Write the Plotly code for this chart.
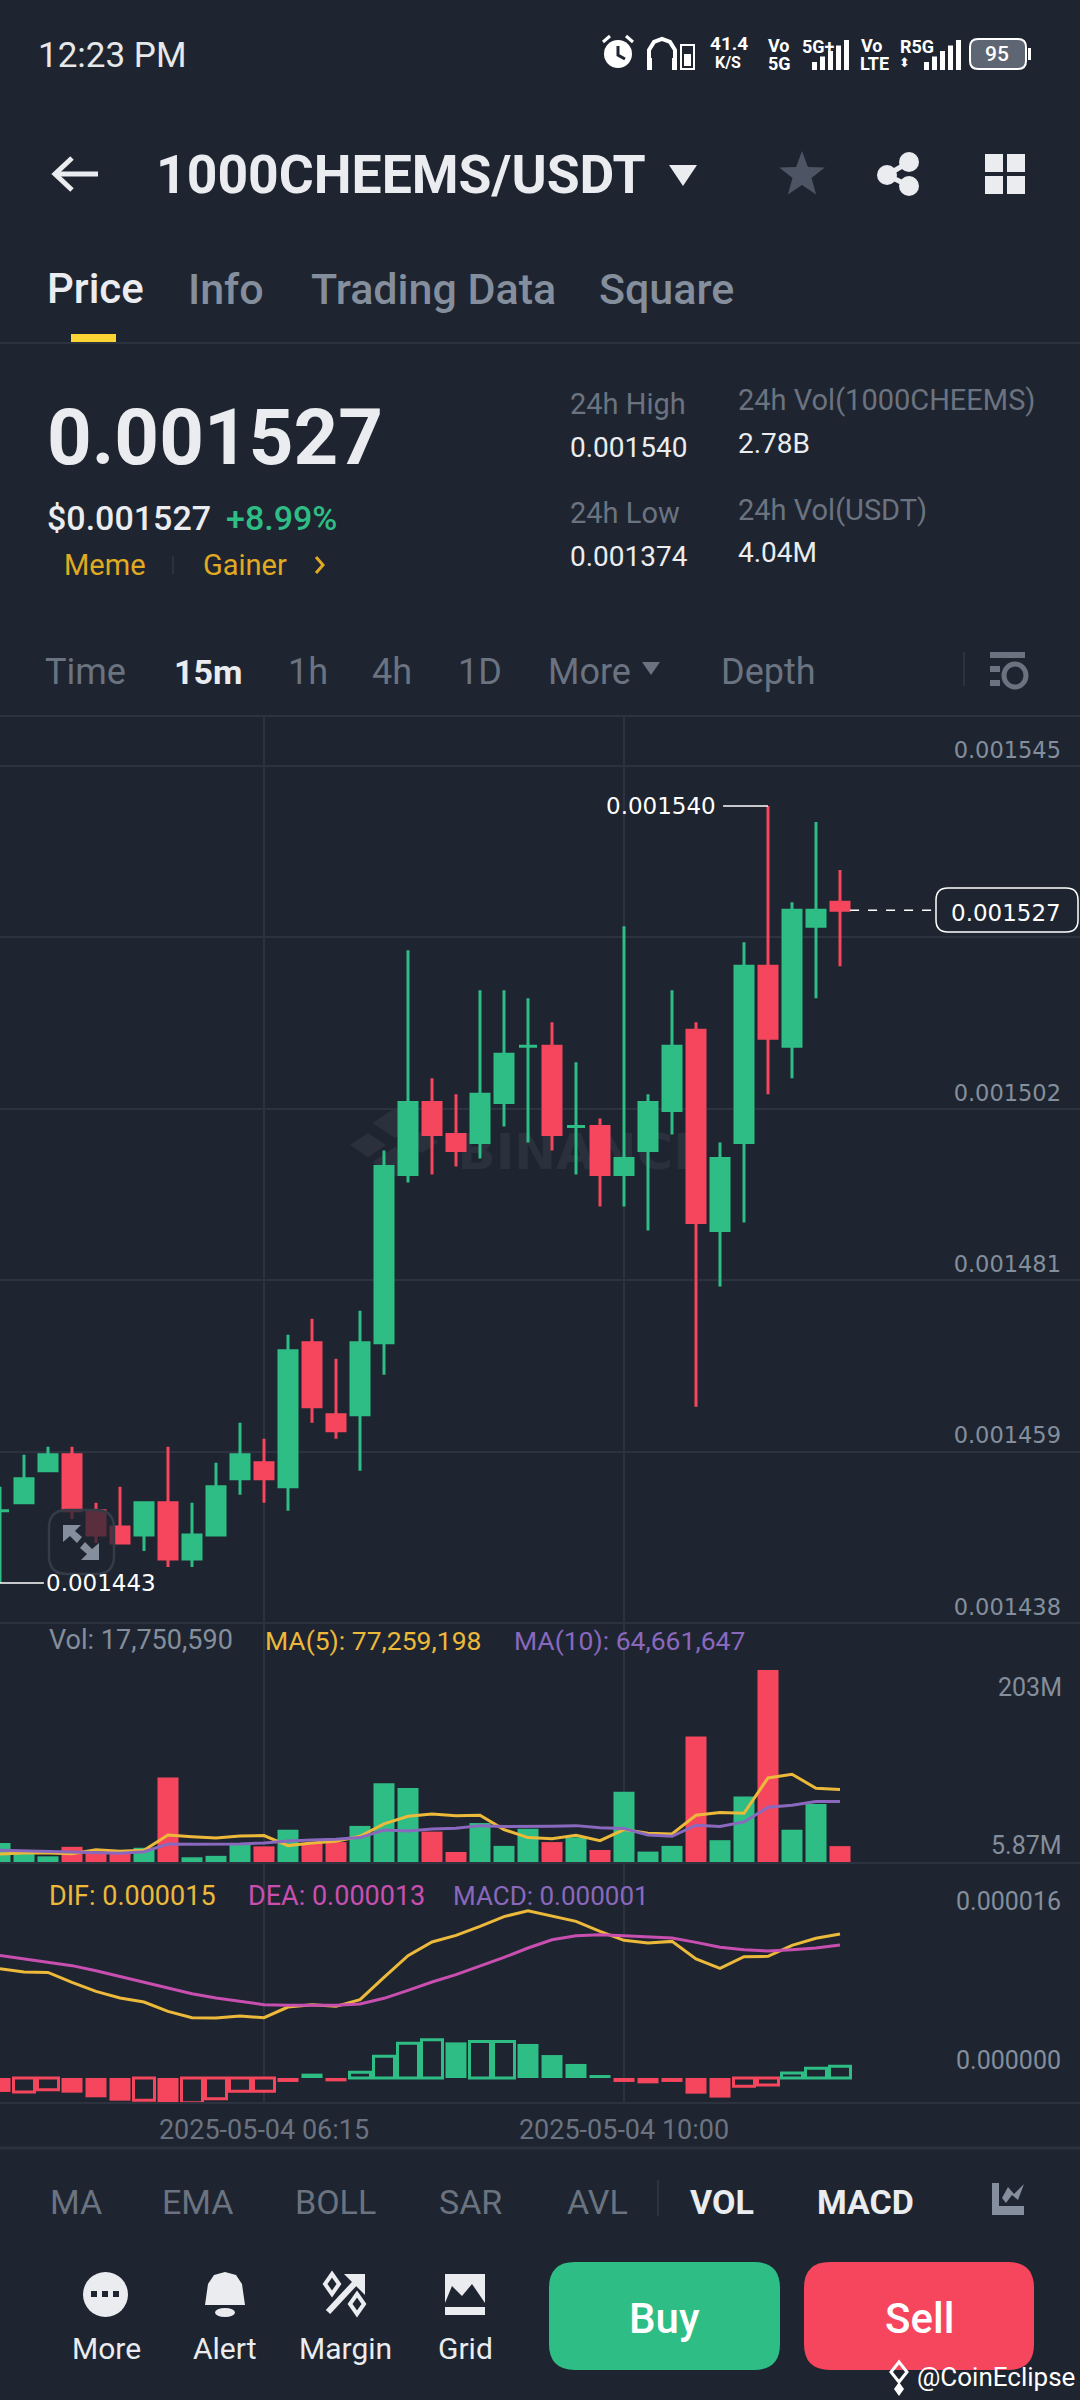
import math
import pandas as pd
import plotly.graph_objs as go

BG = "#1e2530"
GRID = "#2c333e"
GREEN = "#2ebd85"
RED = "#f6465d"
WHITE = "#eaecef"
GRAY = "#848e9c"
DIM = "#6b7380"
GOLD = "#ecb93a"
PINK = "#c84fb0"
PURPLE = "#8a68bd"
SANS = "Roboto"
WIDE = "DejaVu Sans"

candle_times = pd.date_range("2025-05-04 03:30", periods=36, freq="15min")

opens = [0.001452, 0.001453, 0.001457, 0.001459, 0.001452, 0.001450, 0.001449, 0.001453, 0.001446,
         0.001449, 0.001456, 0.001458, 0.001455, 0.001473, 0.001464, 0.001464, 0.001473, 0.001494,
         0.001503, 0.001499, 0.001498, 0.001503, 0.001510, 0.001510, 0.001500, 0.001500, 0.001494,
         0.001497, 0.001502, 0.001512, 0.001487, 0.001498, 0.001520, 0.001510, 0.001525, 0.001528]
closes = [0.001452, 0.001456, 0.001459, 0.001452, 0.001449, 0.001448, 0.001453, 0.001446, 0.001449,
          0.001455, 0.001459, 0.001456, 0.001472, 0.001465, 0.001462, 0.001473, 0.001495, 0.001503,
          0.001499, 0.001497, 0.001504, 0.001509, 0.001510, 0.001499, 0.001500, 0.001494, 0.001496,
          0.001503, 0.001510, 0.001488, 0.001496, 0.001520, 0.001511, 0.001527, 0.001527, 0.001527]
highs = [0.001455, 0.001459, 0.001460, 0.001460, 0.001453, 0.001455, 0.001453, 0.001460, 0.001453,
         0.001458, 0.001463, 0.001461, 0.001474, 0.001476, 0.001471, 0.001477, 0.001497, 0.001522,
         0.001506, 0.001504, 0.001517, 0.001517, 0.001516, 0.001513, 0.001508, 0.001501, 0.001525,
         0.001504, 0.001517, 0.001513, 0.001498, 0.001523, 0.001540, 0.001528, 0.001538, 0.001532]
lows = [0.001443, 0.001453, 0.001457, 0.001451, 0.001448, 0.001448, 0.001447, 0.001445, 0.001445,
        0.001449, 0.001454, 0.001453, 0.001452, 0.001463, 0.001461, 0.001457, 0.001469, 0.001493,
        0.001494, 0.001495, 0.001496, 0.001500, 0.001498, 0.001497, 0.001494, 0.001490, 0.001490,
        0.001487, 0.001499, 0.001465, 0.001480, 0.001488, 0.001504, 0.001506, 0.001516, 0.001520]

# volume, millions
volumes = [21, 9.5, 7, 17, 11, 10.5, 16, 90, 6, 7.5, 20, 17.5, 35, 21, 22, 39, 84, 79,
           33, 11.6, 42, 18, 36, 22, 27, 13.7, 75, 12, 18, 133, 24, 70, 203, 35, 62, 17.75]
ma5 = [9.5, 10.5, 10.5, 9.8, 14, 12.3, 13.3, 29.5, 27.7, 26.3, 28.4, 28.8, 18.3, 21.1, 22.8, 28.1, 41.1, 49.1,
       51.6, 49.8, 50.2, 35.1, 26.7, 25.6, 29.1, 23.5, 35.1, 31.2, 30.5, 50.2, 53, 52.3, 89.5, 93.4, 78.6, 77.26]
ma10 = [13.3, 12.6, 11.6, 10.9, 10.2, 10.2, 11.9, 20, 19.7, 19.7, 20, 21.1, 23.2, 24.2, 24.9, 26.7, 34.7, 33.7,
        35.8, 36.5, 39.3, 38.3, 38.3, 38.6, 39.3, 37.2, 36.2, 29.5, 28.1, 39.7, 38.3, 43.2, 58.6, 60.7, 64.6, 64.66]

# macd pane, millionths
dif = [11.04, 10.71, 10.67, 9.66, 8.75, 8.08, 7.68, 6.73, 6.09, 6.06, 6.26, 6.09, 7.17, 7.41, 7.24, 7.91, 10.17, 12.36,
       13.74, 14.41, 15.32, 16.30, 16.90, 16.33, 15.82, 14.81, 13.91, 13.64, 13.80, 12.02, 11.08, 12.26, 12.29, 13.40, 14.11, 14.55]
dea = [12.39, 12.05, 11.75, 11.35, 10.84, 10.27, 9.70, 9.09, 8.52, 8.08, 7.71, 7.41, 7.34, 7.37, 7.34, 7.47, 8.05, 8.86,
       9.70, 10.44, 11.28, 12.19, 13.13, 13.97, 14.38, 14.48, 14.38, 14.24, 14.14, 13.70, 13.20, 12.96, 12.83, 12.96, 13.13, 13.43]
macd = [-1.41, -1.41, -1.18, -1.48, -1.95, -2.29, -2.25, -2.46, -2.5, -2.09, -1.35, -1.35, -0.40, 0.44, -0.34, 0.57, 2.19, 3.52,
        3.87, 3.60, 3.70, 3.70, 3.44, 2.32, 1.42, 0.30, -0.40, -0.54, -0.40, -1.58, -1.98, -0.84, -0.71, 0.50, 0.98, 1.18]
macd_hollow = [0, 1, 1, 0, 0, 0, 1, 0, 1, 1, 1, 1, 0, 0, 0, 1, 1, 1,
               1, 0, 1, 1, 0, 0, 0, 0, 0, 0, 0, 0, 0, 1, 1, 1, 1, 1]

# the axis levels are evenly spaced, the labels round them to six places
price_ticks = [0.0015450, 0.0015236, 0.0015022, 0.0014808, 0.0014594, 0.0014380]
# the second level's label is covered by the last price tag in the picture
price_tick_text = ["0.001545", "", "0.001502", "0.001481", "0.001459", "0.001438"]
macd_ticks = [0.000016, 0.0]
time_ticks = ["2025-05-04 06:15", "2025-05-04 10:00"]

W, H = 1080.0, 2400.0


def px(x):
    return x / W


def py(y):
    return 1 - y / H


def dom(top, bottom):
    return [py(bottom), py(top)]


annotations = []
shapes = []


def label(x, y, text, size=30, color=WHITE, anchor="left", font=SANS, bold=False, weight=None):
    if bold:
        text = "<b>" + text + "</b>"
    f = dict(family=font, size=size, color=color)
    if weight:
        f["weight"] = weight
    annotations.append(dict(xref="paper", yref="paper", x=px(x), y=py(y), text=text, showarrow=False,
                            xanchor=anchor, yanchor="middle", borderpad=0, font=f))


def path_of(points, close=True):
    s = ""
    for i, p in enumerate(points):
        s += ("M" if i == 0 else "L") + " %.5f %.5f " % (px(p[0]), py(p[1]))
    return s + ("Z" if close else "")


def poly(points, fill=None, line=None, width=0, close=True, layer="above"):
    shapes.append(dict(type="path", xref="paper", yref="paper", path=path_of(points, close), layer=layer,
                       fillcolor=fill if fill else "rgba(0,0,0,0)",
                       line=dict(color=line if line else "rgba(0,0,0,0)", width=width)))


def rect(x0, y0, x1, y1, fill=None, line=None, width=0, layer="above"):
    shapes.append(dict(type="rect", xref="paper", yref="paper", x0=px(x0), x1=px(x1), y0=py(y0), y1=py(y1),
                       layer=layer, fillcolor=fill if fill else "rgba(0,0,0,0)",
                       line=dict(color=line if line else "rgba(0,0,0,0)", width=width)))


def oval(x0, y0, x1, y1, fill=None, line=None, width=0):
    shapes.append(dict(type="circle", xref="paper", yref="paper", x0=px(x0), x1=px(x1), y0=py(y0), y1=py(y1),
                       fillcolor=fill if fill else "rgba(0,0,0,0)",
                       line=dict(color=line if line else "rgba(0,0,0,0)", width=width)))


def hline(y, x0=0, x1=W, color=GRID, width=2):
    shapes.append(dict(type="line", xref="paper", yref="paper", x0=px(x0), x1=px(x1), y0=py(y), y1=py(y),
                       line=dict(color=color, width=width)))


def vline(x, y0, y1, color=GRID, width=2):
    shapes.append(dict(type="line", xref="paper", yref="paper", x0=px(x), x1=px(x), y0=py(y0), y1=py(y1),
                       line=dict(color=color, width=width)))


def rounded(x0, y0, x1, y1, r, fill=None, line=None, width=0):
    # paper coords are fine here since the page is a fixed size
    fx0, fx1, fy0, fy1 = px(x0), px(x1), py(y0), py(y1)
    rx, ry = r / W, r / H
    p = "M %.5f %.5f L %.5f %.5f Q %.5f %.5f %.5f %.5f L %.5f %.5f Q %.5f %.5f %.5f %.5f " % (
        fx0 + rx, fy0, fx1 - rx, fy0, fx1, fy0, fx1, fy0 - ry, fx1, fy1 + ry, fx1, fy1, fx1 - rx, fy1)
    p += "L %.5f %.5f Q %.5f %.5f %.5f %.5f L %.5f %.5f Q %.5f %.5f %.5f %.5f Z" % (
        fx0 + rx, fy1, fx0, fy1, fx0, fy1 + ry, fx0, fy0 - ry, fx0, fy0, fx0 + rx, fy0)
    shapes.append(dict(type="path", xref="paper", yref="paper", path=p,
                       fillcolor=fill if fill else "rgba(0,0,0,0)",
                       line=dict(color=line if line else "rgba(0,0,0,0)", width=width)))


def signal_bars(x0, y_bottom):
    for i in range(5):
        h = 8 + i * 5.5
        rect(x0 + i * 8, y_bottom - h, x0 + i * 8 + 5, y_bottom, fill="white")


# status bar
label(37, 55, "12:23 PM", 35, "#e6e8ea")
oval(604, 40, 632, 68, fill="white")
poly([(618, 46), (618, 55), (625, 59)], line=BG, width=3, close=False)
poly([(603, 42), (610, 36)], line="white", width=3, close=False)
poly([(626, 36), (633, 42)], line="white", width=3, close=False)
poly([(649, 70), (649, 50), (654, 42), (662, 39), (670, 42), (675, 50), (675, 70)], line="white", width=4, close=False)
rect(647, 58, 652, 70, fill="white")
rect(672, 58, 677, 70, fill="white")
rect(681, 45, 694, 69, line="white", width=2)
rect(684, 54, 691, 66, fill="white")
label(729, 44, "41.4", 19, "white", "center", bold=True)
label(728, 63, "K/S", 16, "white", "center", bold=True)
label(779, 45, "Vo", 18, "white", "center", bold=True)
label(779, 64, "5G", 18, "white", "center", bold=True)
label(818, 46, "5G+", 18, "white", "center", bold=True)
signal_bars(812, 70)
label(872, 45, "Vo", 18, "white", "center", bold=True)
label(874, 64, "LTE", 18, "white", "center", bold=True)
label(917, 46, "R5G", 18, "white", "center", bold=True)
label(904, 63, "⬍", 13, "white", "center", WIDE)
signal_bars(924, 70)
rounded(970, 39, 1026, 69, 8, fill="#5e6673", line="white", width=2)
label(997, 54, "95", 21, "white", "center", weight=500)
rect(1028, 48, 1031, 60, fill="white")

# header
poly([(98, 174), (58, 174)], line=WHITE, width=5, close=False)
poly([(72, 158), (55, 174), (72, 190)], line=WHITE, width=5, close=False)
label(155, 175, "1000CHEEMS/USDT", 53.5, WHITE, bold=True)
poly([(669, 165), (697, 165), (683, 186)], fill=WHITE)
star = []
for k in range(10):
    r = 24 if k % 2 == 0 else 10
    a = -math.pi / 2 + k * math.pi / 5
    star.append((802 + r * math.cos(a), 175 + r * math.sin(a)))
poly(star, fill="#4d5564")
oval(877, 165, 897, 185, fill=WHITE)
oval(899, 152, 919, 172, fill=WHITE)
oval(899, 176, 919, 196, fill=WHITE)
poly([(909, 162), (887, 175), (909, 186)], line=WHITE, width=5, close=False)
rect(985, 154, 1003, 172, fill=WHITE)
rect(1007, 154, 1025, 172, fill=WHITE)
rect(985, 176, 1003, 194, fill=WHITE)
rect(1007, 176, 1025, 194, fill=WHITE)

# tabs
label(46, 289, "Price", 42, WHITE, weight=500)
label(187, 289, "Info", 43, GRAY, weight=500)
label(310, 289, "Trading Data", 43, GRAY, weight=500)
label(598, 289, "Square", 43, GRAY, weight=500)
rect(71, 334, 116, 342, fill="#fcd535")
hline(343)

# ticker block
label(46, 437, "0.001527", 78, WHITE, bold=True)
label(46, 518, "$0.001527", 34, WHITE, weight=500)
label(225, 518, "+8.99%", 34, GREEN, weight=500)
label(63, 565, "Meme", 29, "#e0aa22")
vline(173, 556, 574, "#3a424e", 1)
label(202, 565, "Gainer", 29, "#e0aa22")
poly([(316, 557), (323, 565), (316, 573)], line="#e0aa22", width=3, close=False)
label(569, 404, "24h High", 29, DIM)
label(569, 447, "0.001540", 28, WHITE)
label(569, 513, "24h Low", 29, DIM)
label(569, 556, "0.001374", 28, WHITE)
label(737, 400, "24h Vol(1000CHEEMS)", 29, DIM)
label(737, 443, "2.78B", 28, WHITE)
label(737, 510, "24h Vol(USDT)", 29, DIM)
label(737, 552, "4.04M", 28, WHITE)

# interval row
label(44, 672, "Time", 36, DIM)
label(173, 672, "15m", 34, WHITE, bold=True)
label(287, 672, "1h", 36, DIM)
label(371, 672, "4h", 36, DIM)
label(457, 672, "1D", 36, DIM)
label(547, 672, "More", 36, DIM)
poly([(642, 662), (660, 662), (651, 675)], fill=DIM)
label(720, 672, "Depth", 36, DIM)
vline(964, 652, 686)
rect(990, 652, 1025, 658, fill=DIM)
rect(990, 666, 1000, 672, fill=DIM)
rect(990, 680, 1000, 686, fill=DIM)
oval(1004, 664, 1026, 687, line=DIM, width=5)
hline(716)

# chart pane labels
label(48, 1640, "Vol: 17,750,590", 27, GRAY)
label(264, 1640, "MA(5): 77,259,198", 26.5, GOLD)
label(513, 1640, "MA(10): 64,661,647", 26.5, PURPLE)
label(48, 1896, "DIF: 0.000015", 27, GOLD)
label(247, 1896, "DEA: 0.000013", 27, PINK)
label(452, 1896, "MACD: 0.000001", 26, PURPLE)

# pane edges
hline(1623)
hline(1863)
hline(2103)
hline(2148, width=3)

# watermark, under the candles
shapes.append(dict(type="rect", xref="paper", yref="paper", layer="below", x0=px(430), x1=px(735), y0=py(1120), y1=py(1175),
                   line=dict(width=0), fillcolor="rgba(0,0,0,0)",
                   label=dict(text="<b>BINANCE</b>", font=dict(family=WIDE, size=50, color="#2a313c"),
                              textposition="middle center")))
for dx, dy, r in [(368, 1145, 12), (395, 1123, 15), (395, 1162, 15), (422, 1142, 11)]:
    poly([(dx - r * 1.5, dy), (dx, dy - r), (dx + r * 1.5, dy), (dx, dy + r)], fill="#2a313c", layer="below")

# collapse button over the candles
rounded(49, 1510, 114, 1574, 18, fill="rgba(30,37,48,0.72)", line="#343c48", width=2.5)
poly([(63, 1525), (81, 1525), (75, 1531), (82, 1537), (77, 1543), (70, 1536), (63, 1542)], fill=GRAY)
poly([(99, 1560), (81, 1560), (87, 1554), (80, 1548), (85, 1542), (92, 1549), (99, 1543)], fill=GRAY)

# indicator row
label(49, 2202, "MA", 34, DIM)
label(161, 2202, "EMA", 34, DIM)
label(294, 2202, "BOLL", 34, DIM)
label(438, 2202, "SAR", 34, DIM)
label(566, 2202, "AVL", 34, DIM)
vline(658, 2180, 2216)
label(689, 2202, "VOL", 34, WHITE, bold=True)
label(816, 2202, "MACD", 34, WHITE, bold=True)
poly([(992, 2183), (999, 2183), (999, 2206), (1024, 2206), (1024, 2215), (992, 2215)], fill=GRAY)
poly([(1002, 2198), (1008, 2187), (1014, 2194), (1024, 2184), (1018, 2200), (1012, 2195), (1006, 2203)], fill=GRAY)

# bottom actions
oval(83, 2272, 128, 2317, fill=WHITE)
for dx in [94, 105, 116]:
    rect(dx - 3, 2291, dx + 3, 2297, fill=BG)
label(106, 2348, "More", 30, WHITE, "center")
poly([(205, 2305), (208, 2284), (214, 2275), (225, 2272), (236, 2275), (242, 2284), (245, 2305)], fill=WHITE)
oval(215, 2308, 235, 2317, fill=WHITE)
label(225, 2348, "Alert", 30, WHITE, "center")
poly([(328, 2312), (356, 2282)], line=WHITE, width=6, close=False)
poly([(344, 2274), (365, 2274), (365, 2295)], fill=WHITE)
poly([(332, 2274), (339, 2284), (332, 2294), (325, 2284)], line=WHITE, width=4)
poly([(357, 2294), (364, 2304), (357, 2314), (350, 2304)], line=WHITE, width=4)
label(345, 2348, "Margin", 30, WHITE, "center")
rect(445, 2274, 485, 2303, fill=WHITE)
poly([(445, 2303), (452, 2286), (462, 2296), (472, 2284), (485, 2303)], fill=BG)
rect(445, 2307, 485, 2315, fill=WHITE)
label(465, 2348, "Grid", 30, WHITE, "center")
rounded(549, 2262, 780, 2370, 26, fill=GREEN)
rounded(804, 2262, 1034, 2370, 26, fill=RED)
label(664, 2318, "Buy", 42, "white", "center", weight=500)
label(919, 2318, "Sell", 42, "white", "center", weight=500)
label(916, 2377, "@CoinEclipse", 26, "white")
poly([(899, 2362), (907, 2372), (899, 2382), (891, 2372)], line="white", width=3)
poly([(899, 2382), (904, 2389), (899, 2396), (894, 2389)], fill="white")

# leaders and the last price tag
step = pd.Timedelta(minutes=15)
shapes.append(dict(type="line", xref="x", yref="y", x0=candle_times[32] - step * 1.87, x1=candle_times[32],
                   y0=highs[32], y1=highs[32], line=dict(color="white", width=1.5)))
shapes.append(dict(type="line", xref="x", yref="y", x0=candle_times[0], x1=candle_times[0] + step * 1.83,
                   y0=lows[0], y1=lows[0], line=dict(color="white", width=1.5)))
shapes.append(dict(type="line", xref="x", yref="y", x0=candle_times[35] + step * 0.42, x1=candle_times[35] + step * 4,
                   y0=closes[35], y1=closes[35], line=dict(color="white", width=1.5, dash="dash")))
rounded(936, 888, 1078, 932, 12, fill=BG, line="white", width=1.5)
for t, v, side, shift in [(candle_times[32], highs[32], "right", -50), (candle_times[0], lows[0], "left", 44)]:
    annotations.append(dict(xref="x", yref="y", x=t, y=v, text="%.6f" % v, showarrow=False, xanchor=side, xshift=shift,
                            yanchor="middle", font=dict(family=WIDE, size=23, color="white")))
label(1006, 913, "%.6f" % closes[35], 23, "white", "center", WIDE)

# volume axis labels sit off their levels so they go in as annotations
for v, off in [(203, -18), (5.87, 12)]:
    annotations.append(dict(xref="paper", yref="y2", x=px(1064), y=v * 1e6, yshift=off, showarrow=False,
                            text="%gM" % v, xanchor="right", yanchor="middle",
                            font=dict(family=SANS, size=25, color=GRAY)))

bar_ms = 15 * 60000 * 0.875
up = [c >= o for o, c in zip(opens, closes)]
vol_colors = [GREEN if u else RED for u in up]
macd_colors = [GREEN if m > 0 else RED for m in macd]

data = [
    go.Candlestick(x=candle_times, open=opens, high=highs, low=lows, close=closes, xaxis="x", yaxis="y",
                   whiskerwidth=0, showlegend=False, hoverinfo="skip",
                   increasing=dict(line=dict(color=GREEN, width=3), fillcolor=GREEN),
                   decreasing=dict(line=dict(color=RED, width=3), fillcolor=RED)),
    go.Bar(x=candle_times, y=[v * 1e6 for v in volumes], xaxis="x2", yaxis="y2", width=bar_ms,
           marker=dict(color=vol_colors, line=dict(width=0)), showlegend=False, hoverinfo="skip"),
    go.Scatter(x=candle_times, y=[v * 1e6 for v in ma5], xaxis="x2", yaxis="y2", mode="lines",
               line=dict(color=GOLD, width=3), showlegend=False, hoverinfo="skip"),
    go.Scatter(x=candle_times, y=[v * 1e6 for v in ma10], xaxis="x2", yaxis="y2", mode="lines",
               line=dict(color=PURPLE, width=3), showlegend=False, hoverinfo="skip"),
    go.Bar(x=candle_times, y=[m * 1e-6 for m in macd], xaxis="x3", yaxis="y3", width=bar_ms,
           marker=dict(color=[BG if h else c for h, c in zip(macd_hollow, macd_colors)],
                       line=dict(color=macd_colors, width=[3 if h else 0 for h in macd_hollow])),
           showlegend=False, hoverinfo="skip"),
    go.Scatter(x=candle_times, y=[v * 1e-6 for v in dif], xaxis="x3", yaxis="y3", mode="lines",
               line=dict(color=GOLD, width=3), showlegend=False, hoverinfo="skip"),
    go.Scatter(x=candle_times, y=[v * 1e-6 for v in dea], xaxis="x3", yaxis="y3", mode="lines",
               line=dict(color=PINK, width=3), showlegend=False, hoverinfo="skip"),
]

x_range = [candle_times[0], candle_times[0] + step * 45]
x_common = dict(range=x_range, type="date", tickmode="array", tickvals=time_ticks, showgrid=True, gridcolor=GRID,
                gridwidth=2, zeroline=False, showline=False, ticks="", fixedrange=True)

layout = go.Layout(
    width=1080, height=2400, margin=dict(l=0, r=0, t=0, b=0),
    paper_bgcolor=BG, plot_bgcolor=BG, showlegend=False, barmode="overlay", boxgap=0.25, boxgroupgap=0,
    xaxis=dict(x_common, domain=[0, 1], anchor="y", showticklabels=False, rangeslider=dict(visible=False)),
    xaxis2=dict(x_common, domain=[0, 1], anchor="y2", showticklabels=False),
    xaxis3=dict(x_common, domain=[0, 1], anchor="y3", showticklabels=True, ticktext=time_ticks,
                ticklabelstandoff=8, tickfont=dict(family=SANS, size=27, color=DIM)),
    yaxis=dict(domain=dom(716, 1623), range=[0.001438, 0.00155124], anchor="x", side="right",
               autorange=False, tickmode="array", tickvals=price_ticks, ticktext=price_tick_text,
               ticklabelposition="inside", ticklabelshift=-16, ticklabelstandoff=16,
               tickfont=dict(family=WIDE, size=22.5, color=GRAY),
               showgrid=True, gridcolor=GRID, gridwidth=1.5, zeroline=False, ticks=""),
    yaxis2=dict(domain=dom(1623, 1863), range=[0, 252.4e6], anchor="x2", side="right", showticklabels=False,
                showgrid=False, zeroline=False, ticks=""),
    yaxis3=dict(domain=dom(1863, 2103), range=[-2.525e-6, 21.72e-6], anchor="x3", side="right",
                tickmode="array", tickvals=macd_ticks, ticktext=["%.6f" % v for v in macd_ticks],
                ticklabelposition="inside", ticklabelshift=-18, ticklabelstandoff=16,
                tickfont=dict(family=SANS, size=25, color=GRAY),
                showgrid=False, zeroline=False, ticks=""),
    annotations=annotations, shapes=shapes,
)

fig = go.Figure(data=data, layout=layout)
fig.write_html("out.html", config=dict(displayModeBar=False),
               post_script="document.body.style.margin='0';")
